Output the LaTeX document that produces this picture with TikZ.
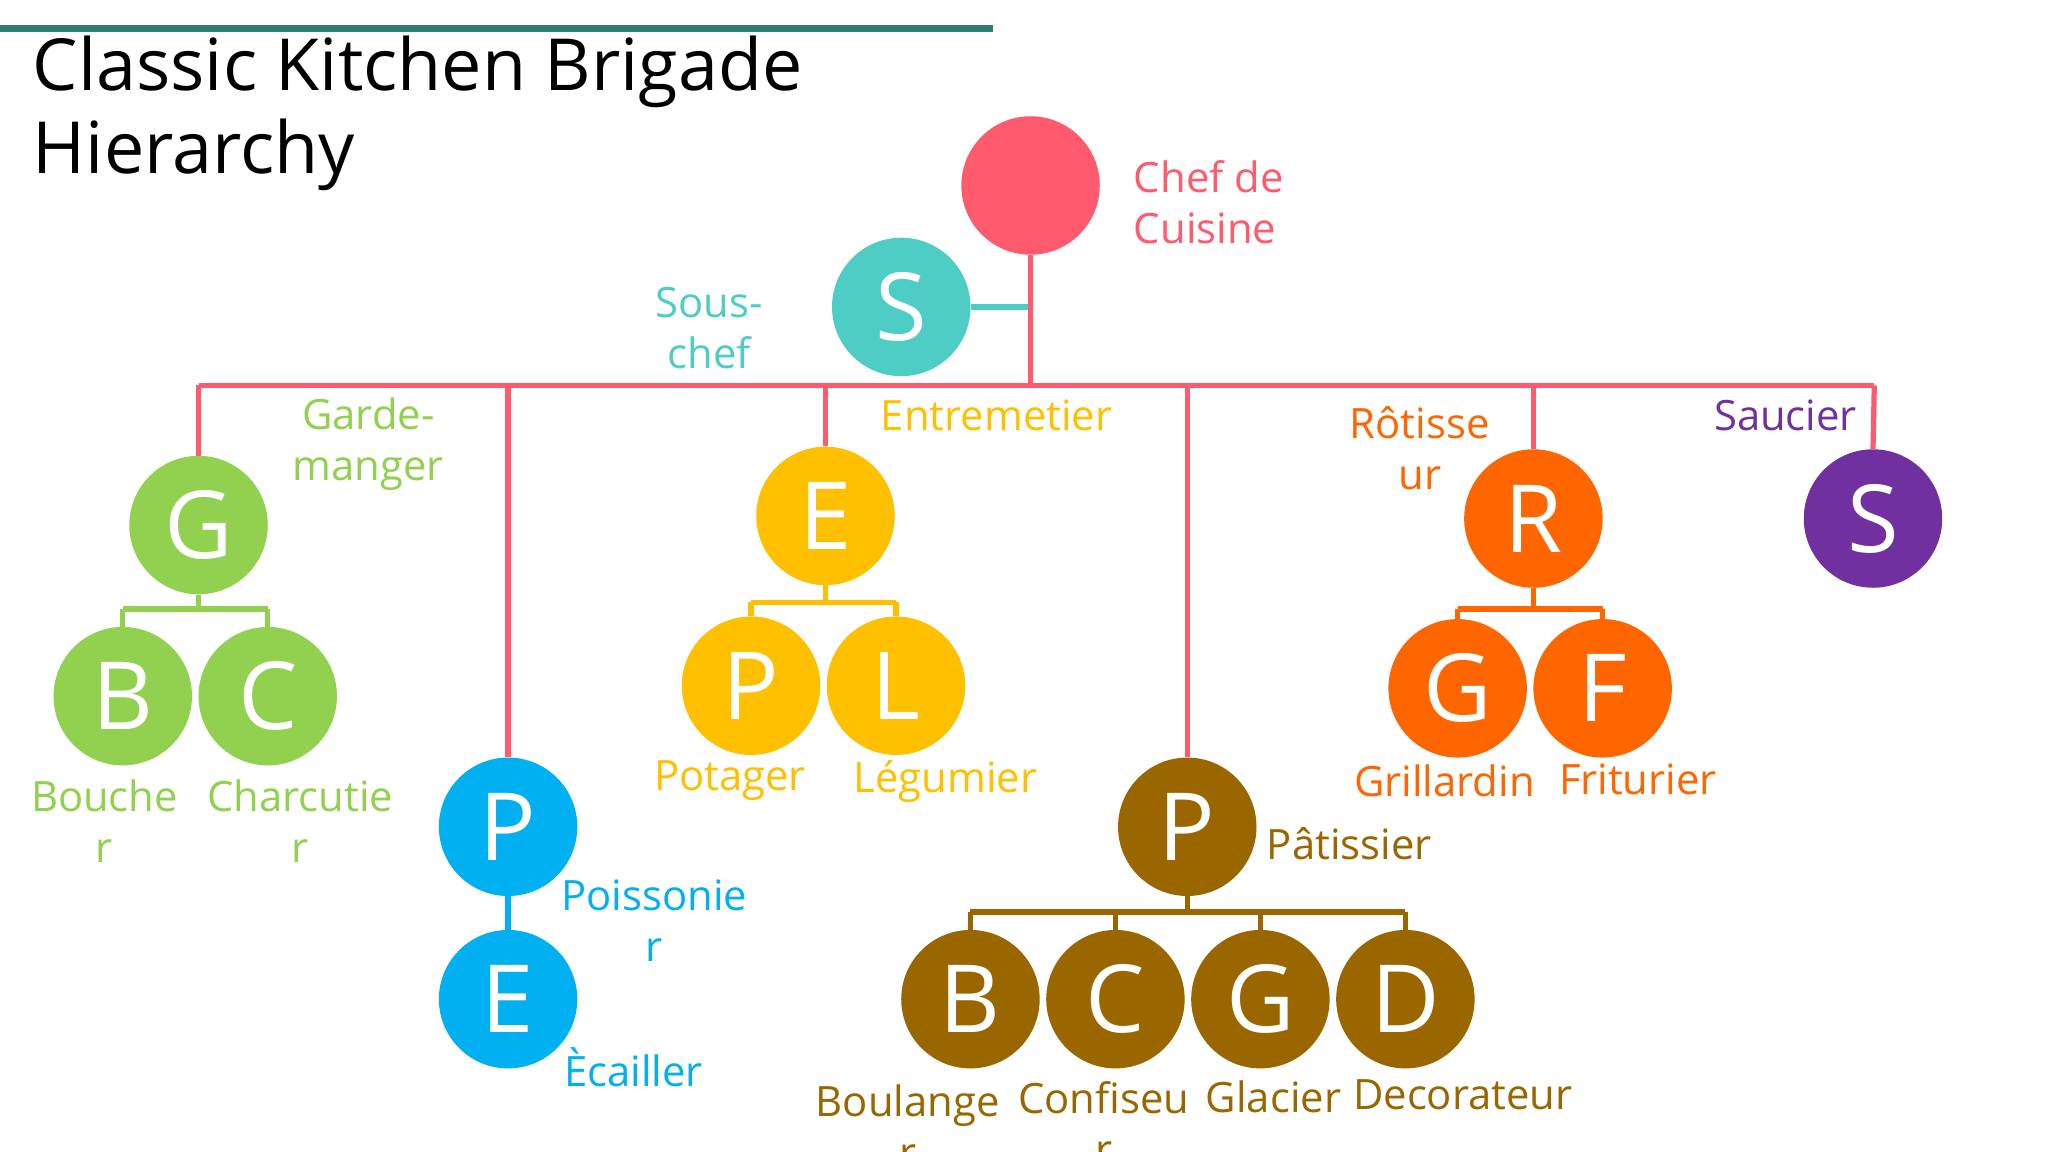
\documentclass[tikz,border=0pt]{standalone}
\usepackage{fontspec}
\setmainfont{Open Sans}
\definecolor{cred}{HTML}{FF5A6E}
\definecolor{cteal}{HTML}{4ECDC4}
\definecolor{cgreen}{HTML}{92D050}
\definecolor{cblue}{HTML}{00B0F0}
\definecolor{cyellow}{HTML}{FFC000}
\definecolor{cbrown}{HTML}{996600}
\definecolor{corange}{HTML}{FF6600}
\definecolor{cpurple}{HTML}{7030A0}
\definecolor{bar}{HTML}{2E7D6E}
\tikzset{
 role/.style={circle,fill=#1,minimum size=106pt,inner sep=0pt,text=white,font=\fontsize{72}{72}\selectfont},
 lbl/.style={text=#1,font=\fontsize{32}{39}\selectfont,align=center,inner sep=0pt},
 link/.style={draw=#1,line width=4pt},
}
\begin{document}
\begin{tikzpicture}[x=1pt,y=-1pt]
\useasboundingbox (0,0) rectangle (1568,882);
\fill[white] (0,0) rectangle (1568,882);
\draw[bar,line width=5pt] (0,22) -- (760,22);
\node[anchor=north west,align=left,font=\fontsize{55}{64}\selectfont,inner sep=0pt] (title) at (25,27) {Classic Kitchen Brigade\\Hierarchy};
% nodes
\node[role=cred] (chef) at (789,142) {};
\node[role=cteal] (sous) at (690,235) {S};
\node[role=cgreen] (gm) at (152,402) {G};
\node[role=cgreen] (bo) at (94,533) {B};
\node[role=cgreen] (ch) at (205,533) {C};
\node[role=cblue] (po) at (389,633) {P};
\node[role=cblue] (ec) at (389,765) {E};
\node[role=cyellow] (en) at (632,395) {E};
\node[role=cyellow] (pt) at (575,525) {P};
\node[role=cyellow] (le) at (686,525) {L};
\node[role=cbrown] (pa) at (909,633) {P};
\node[role=cbrown] (b2) at (743,765) {B};
\node[role=cbrown] (c2) at (854,765) {C};
\node[role=cbrown] (g2) at (965,765) {G};
\node[role=cbrown] (d2) at (1076,765) {D};
\node[role=corange] (ro) at (1174,397) {R};
\node[role=corange] (gr) at (1116,527) {G};
\node[role=corange] (fr) at (1227,527) {F};
\node[role=cpurple] (sa) at (1434,397) {S};
% coordinates of main bus
\coordinate (bus) at (789,295);
\coordinate (busL) at (152,295);
\coordinate (busR) at (1435,295);
% connectors
\draw[link=cteal] (sous.east) -- (sous.east -| chef);
\draw[link=cred] (chef.south) -- (bus);
\draw[link=cred] (busL) -- (busR);
\draw[link=cred] (busL) -- (gm.north);
\draw[link=cred] (po.north |- bus) -- (po.north);
\draw[link=cred] (en.north |- bus) -- (en.north);
\draw[link=cred] (pa.north |- bus) -- (pa.north);
\draw[link=cred] (ro.north |- bus) -- (ro.north);
\draw[link=cred] (busR) -- (sa.north);
\draw[link=cgreen] (gm.south) -- ++(0,11) coordinate (g1);
\draw[link=cgreen] (g1 -| bo) -- (g1 -| ch);
\draw[link=cgreen] (g1 -| bo) -- (bo.north);
\draw[link=cgreen] (g1 -| ch) -- (ch.north);
\draw[link=cblue] (po.south) -- (ec.north);
\draw[link=cyellow] (en.south) -- ++(0,13) coordinate (e1);
\draw[link=cyellow] (e1 -| pt) -- (e1 -| le);
\draw[link=cyellow] (e1 -| pt) -- (pt.north);
\draw[link=cyellow] (e1 -| le) -- (le.north);
\draw[link=corange] (ro.south) -- ++(0,16) coordinate (r1);
\draw[link=corange] (r1 -| gr) -- (r1 -| fr);
\draw[link=corange] (r1 -| gr) -- (gr.north);
\draw[link=corange] (r1 -| fr) -- (fr.north);
\draw[link=cbrown] (pa.south) -- ++(0,12) coordinate (p1);
\draw[link=cbrown] (p1 -| b2) -- (p1 -| d2);
\foreach \n in {b2,c2,g2,d2} \draw[link=cbrown] (p1 -| \n) -- (\n.north);
% labels
\node[lbl=cred,align=left,anchor=west] (lchef) at (868,155) {Chef de\\Cuisine};
\node[lbl=cteal] (lsous) at (543,251) {Sous-\\chef};
\node[lbl=cgreen] (lgm) at (282,340) {Garde-\\manger};
\node[lbl=cgreen] (lbo) at (80,629) {Bouche\\r};
\node[lbl=cgreen] (lch) at (230,629) {Charcutie\\r};
\node[lbl=cblue] (lpo) at (501,705) {Poissonie\\r};
\node[lbl=cblue] (lec) at (485,817) {Ècailler};
\node[lbl=cyellow] (len) at (763,318) {Entremetier};
\node[lbl=cyellow] (lpt) at (559,598) {Potager};
\node[lbl=cyellow] (lle) at (724,598) {Légumier};
\node[lbl=cbrown] (lpa) at (1033,646) {Pâtissier};
\node[lbl=cbrown] (lb2) at (695,862) {Boulange\\r};
\node[lbl=cbrown] (lc2) at (845,860) {Confiseu\\r};
\node[lbl=cbrown] (lg2) at (975,840) {Glacier};
\node[lbl=cbrown] (ld2) at (1120,838) {Decorateur};
\node[lbl=corange] (lro) at (1087,343) {Rôtisse\\ur};
\node[lbl=corange] (lgr) at (1106,598) {Grillardin};
\node[lbl=corange] (lfr) at (1254,597) {Friturier};
\node[lbl=cpurple] (lsa) at (1367,318) {Saucier};
\end{tikzpicture}
\end{document}
